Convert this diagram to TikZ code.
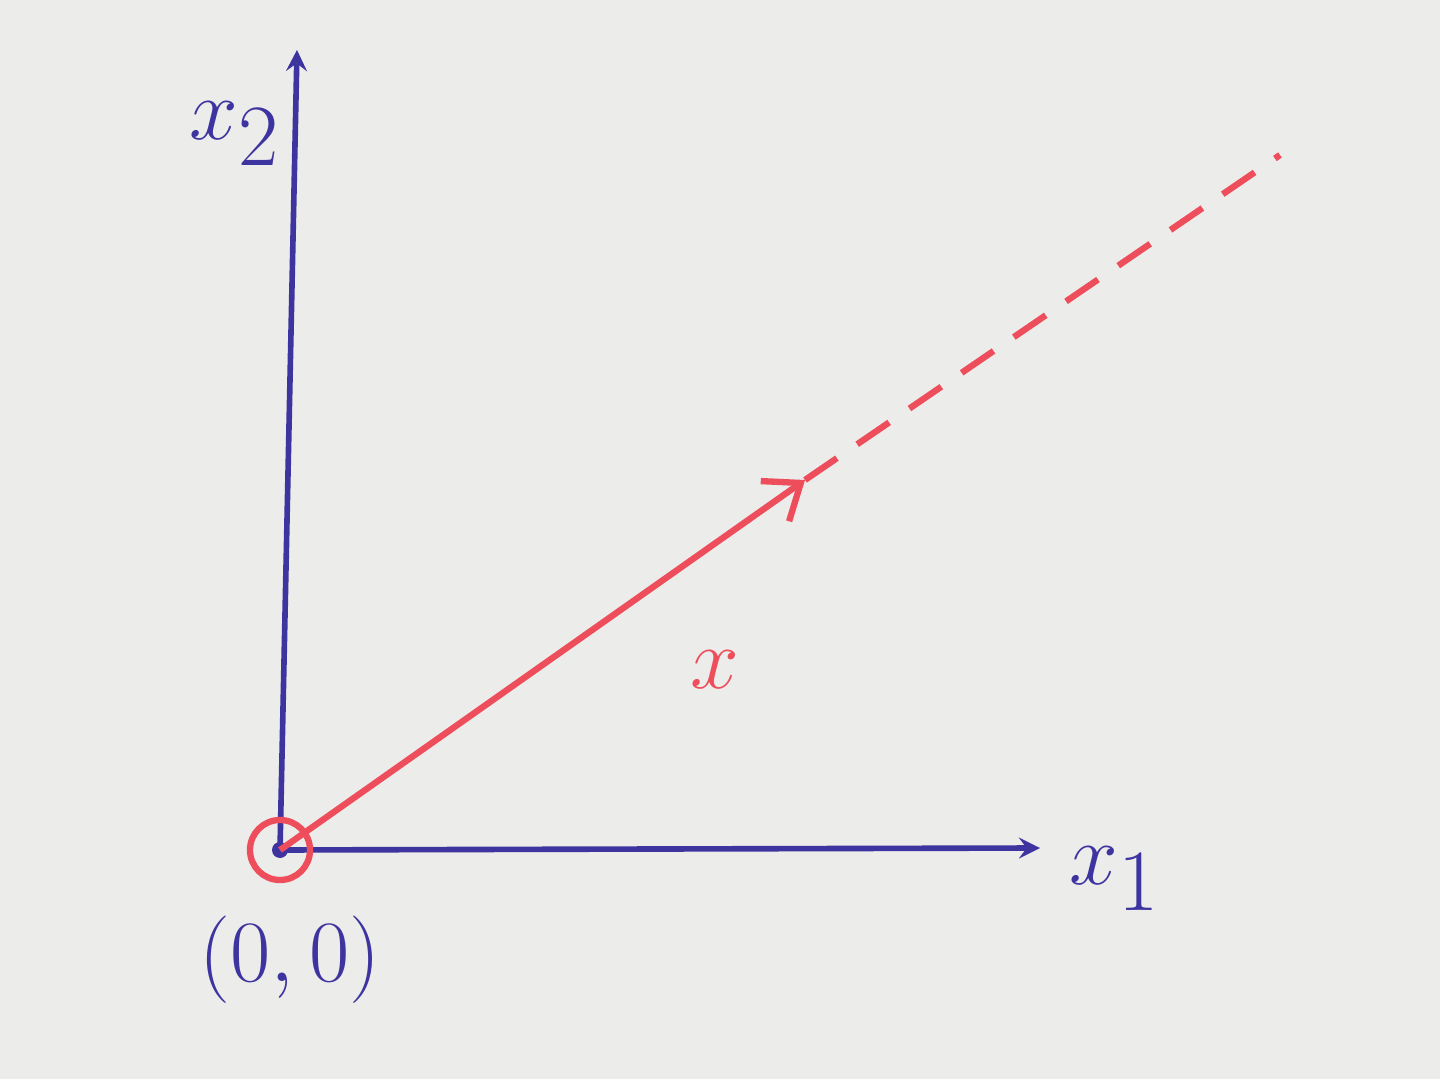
\documentclass[tikz,border=0pt]{standalone}
\usepackage{amsmath}
\usetikzlibrary{positioning,arrows.meta}
\definecolor{penblue}{RGB}{62,52,160}
\definecolor{penred}{RGB}{238,78,92}
\definecolor{paper}{RGB}{236,236,234}
\tikzset{
  axis/.style={penblue, line width=1.6pt},
  vec/.style={penred, line width=1.8pt},
  lbl/.style={font=\fontsize{34}{40}\selectfont},
}
\begin{document}
\begin{tikzpicture}[>=stealth]
                    \fill[paper] (0,0) rectangle (14.4,10.79);
                    \useasboundingbox (0,0) rectangle (14.4,10.79);
                    \coordinate (o) at (2.8,2.29);
                    \coordinate (xend) at (10.4,2.31);
                    \coordinate (yend) at (2.97,10.29);
                    \coordinate (tip) at (8.05,5.99);
                    \coordinate (far) at (12.8,9.24);
                    % axes
                    \draw[axis,->] (o) -- (xend);
                    \draw[axis,->] (o) -- (yend);
                    \node[lbl, penblue] (xone) at (11.15,2.0) {$x_1$};
                    \node[lbl, penblue] (xtwo) at (2.35,9.45) {$x_2$};
                    \node[lbl, penblue] (orig) at (2.9,1.19) {$(0,0)$};
                    % origin mark
                    \fill[penblue] (o) circle [radius=0.08];
                    \draw[penred, line width=1.8pt] (o) circle [radius=0.3];
                    % vector x and its ray
                    \draw[vec,-{Straight Barb[length=9pt,width=14pt]}] (o) -- (tip);
                    \draw[vec, dash pattern=on 11pt off 7pt] (tip) -- (far);
                    \node[lbl, penred] (xvec) at (7.15,4.09) {$x$};
                \end{tikzpicture}
\end{document}
